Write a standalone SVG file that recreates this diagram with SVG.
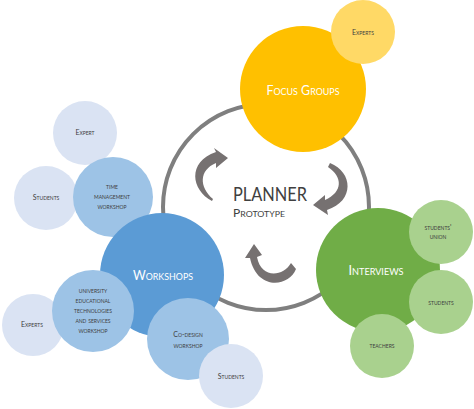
<svg xmlns="http://www.w3.org/2000/svg" width="474" height="409" viewBox="0 0 474 409">
<style>
.big{font-family:Lato,"Liberation Sans",sans-serif;font-variant:small-caps;fill:#fff;font-size:12.5px;text-anchor:middle}
.sm{font-family:Lato,"Liberation Sans",sans-serif;font-variant:small-caps;fill:#404040;font-size:7px;text-anchor:middle}
.arr{fill:#767171}
</style>
<rect width="474" height="409" fill="#fff"/>
<g id="connectors">
<circle cx="266" cy="207" r="103" fill="none" stroke="#7f7f7f" stroke-width="4"/>
<path class="arr" d="M212,201 C191,190 187,162 216,152 L214,148 L228,158 L216,168 L216,163 C199,170 199,187 213,199 Z"/>
<path class="arr" d="M330,163 C353,172 355,201 327,210 L328,215 L313,205 L325,195 L325,200 C343,192 343,177 328,167 Z"/>
<path class="arr" d="M296,269 C289,287 257,291 250,258 L245,258 L254,244 L262,255 L257,257 C261,279 283,277 291,263 Z"/>
</g>
<g id="planner">
<text x="233" y="201" font-family="Lato,'Liberation Sans',sans-serif" font-size="20" fill="#404040" textLength="74" lengthAdjust="spacingAndGlyphs">PLANNER</text>
<text x="233" y="217" font-family="Lato,'Liberation Sans',sans-serif" font-size="11" font-variant="small-caps" fill="#404040" textLength="52" lengthAdjust="spacingAndGlyphs">Prototype</text>
</g>
<g id="focus-groups">
<circle cx="303" cy="89" r="63" fill="#FFC000"/>
<text class="big" x="303" y="95" textLength="73" lengthAdjust="spacingAndGlyphs">Focus Groups</text>
</g>
<g id="experts-focus">
<circle cx="363" cy="32" r="32" fill="#FFD966"/>
<text class="sm" x="363" y="35">Experts</text>
</g>
<g id="expert">
<circle cx="85" cy="133" r="32" fill="#DAE3F3"/>
<text class="sm" x="85" y="135">Expert</text>
</g>
<g id="students-left">
<circle cx="46" cy="198" r="32" fill="#DAE3F3"/>
<text class="sm" x="46" y="200">Students</text>
</g>
<g id="time-management">
<circle cx="113" cy="197" r="40" fill="#9DC3E6"/>
<text class="sm" x="112" y="189">time</text>
<text class="sm" x="112" y="199">management</text>
<text class="sm" x="112" y="209">workshop</text>
</g>
<g id="workshops">
<circle cx="162" cy="275" r="62" fill="#5B9BD5"/>
<text class="big" x="163" y="280" textLength="60" lengthAdjust="spacingAndGlyphs">Workshops</text>
</g>
<g id="experts-left">
<circle cx="33" cy="325" r="31" fill="#DAE3F3"/>
<text class="sm" x="32" y="327">Experts</text>
</g>
<g id="university">
<circle cx="93" cy="311" r="41" fill="#9DC3E6"/>
<text class="sm" x="93" y="293">university</text>
<text class="sm" x="93" y="303">educational</text>
<text class="sm" x="93" y="313">technologies</text>
<text class="sm" x="93" y="323">and services</text>
<text class="sm" x="93" y="333">workshop</text>
</g>
<g id="co-design">
<circle cx="188" cy="339" r="41" fill="#9DC3E6"/>
<text class="sm" x="188" y="337">Co-design</text>
<text class="sm" x="188" y="348">workshop</text>
</g>
<g id="students-bottom">
<circle cx="231" cy="376" r="32" fill="#DAE3F3"/>
<text class="sm" x="231" y="379">Students</text>
</g>
<g id="interviews">
<circle cx="378" cy="270" r="62" fill="#70AD47"/>
<text class="big" x="376" y="275" textLength="55" lengthAdjust="spacingAndGlyphs">Interviews</text>
</g>
<g id="students-union">
<circle cx="441" cy="232" r="32" fill="#A9D18E"/>
<text class="sm" x="438" y="230">students'</text>
<text class="sm" x="438" y="239">union</text>
</g>
<g id="students-right">
<circle cx="441" cy="302" r="32" fill="#A9D18E"/>
<text class="sm" x="441" y="305">students</text>
</g>
<g id="teachers">
<circle cx="382" cy="346" r="32" fill="#A9D18E"/>
<text class="sm" x="382" y="348">teachers</text>
</g>
</svg>
